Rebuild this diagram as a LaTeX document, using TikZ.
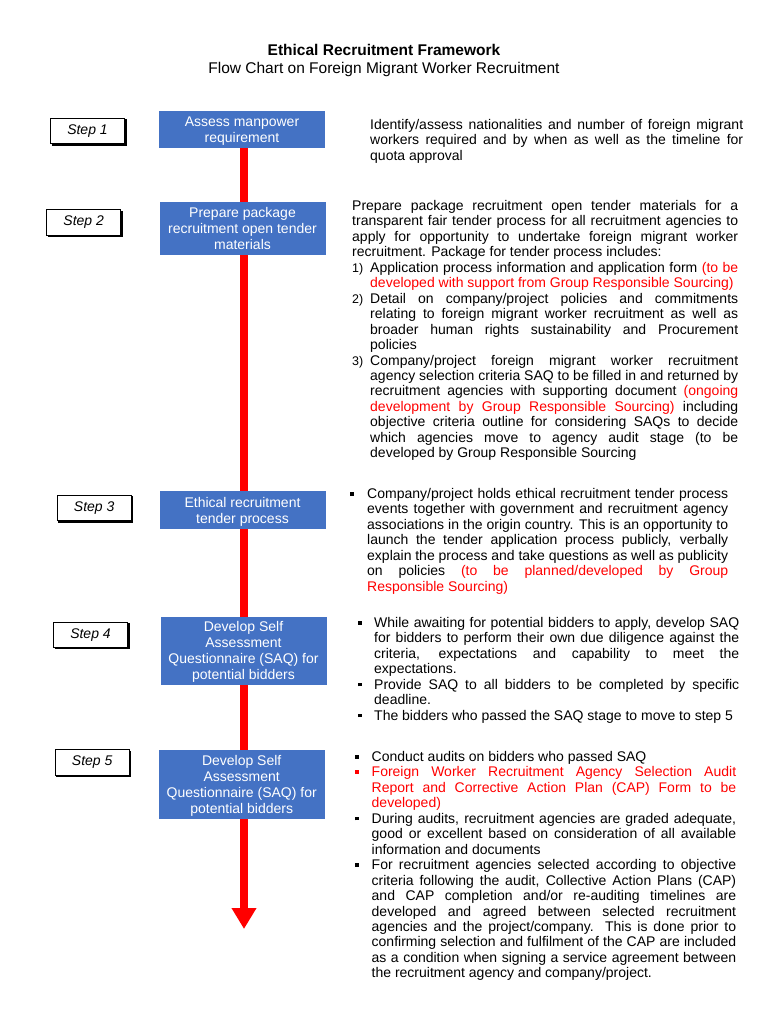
\documentclass[tikz,border=0pt]{standalone}
\usepackage{fontspec}
\setmainfont{Liberation Sans}
\usetikzlibrary{arrows.meta}
\definecolor{boxblue}{HTML}{4472C4}
\definecolor{rred}{HTML}{FF0000}
\newcommand{\rt}[1]{\textcolor{rred}{#1}}
\newcommand{\sqb}{\raisebox{3pt}{\rule{3.6pt}{3.6pt}}}
\newcommand{\rsqb}{\textcolor{rred}{\sqb}}
\newcommand{\numl}[1]{{\fontsize{12.5}{15.45}\selectfont #1}}
\newcommand{\hitem}[3]{\par\noindent\hangindent=#1\relax\hangafter=1\relax\makebox[#1][l]{#2}#3\par}
\newcommand{\tblock}[2]{\parbox[t]{#1}{\parindent=0pt\tolerance=10000\hbadness=10000\hyphenpenalty=10000\exhyphenpenalty=10000\fontsize{14}{15.45}\selectfont #2}}
\newcommand{\bstart}{\rule{0pt}{14pt}}
\newcommand{\bend}{\rule[-4pt]{0pt}{4pt}}
\tikzset{
  body/.style={anchor=base west, inner sep=0pt},
  bluebox/.style={fill=boxblue, text=white, align=center, inner sep=0pt,
    minimum width=166pt, font=\fontsize{14}{16}\selectfont},
  stepbox/.style={draw=black, fill=white, line width=0.8pt, inner sep=0pt,
    minimum width=74pt, minimum height=25.5pt,
    font=\itshape\fontsize{14}{16}\selectfont},
  shadowline/.style={draw=black, line width=1.4pt},
  redline/.style={draw=rred, line width=8pt},
  titlefont/.style={anchor=base, inner sep=0pt, font=\fontsize{15.5}{18}\selectfont}
}
\begin{document}
\begin{tikzpicture}[x=1pt,y=-1pt]
\fill[white] (0,0) rectangle (768,1024);
\useasboundingbox (0,0) rectangle (768,1024);

% titles
\node[titlefont, font=\bfseries\fontsize{15.5}{18}\selectfont] (title) at (384,56) {Ethical Recruitment Framework};
\node[titlefont] (subtitle) at (384,73.3) {Flow Chart on Foreign Migrant Worker Recruitment};

% blue boxes
\node[bluebox, minimum height=37pt] (b1) at (242,129.5) {\bstart Assess manpower\\requirement\bend};
\node[bluebox, minimum height=53pt] (b2) at (242.5,228.5) {\bstart Prepare package\\recruitment open tender\\materials\bend};
\node[bluebox, minimum height=37.5pt] (b3) at (242.5,510) {\bstart Ethical recruitment\\tender process\bend};
\node[bluebox, minimum height=68pt] (b4) at (243.5,650.7) {\bstart Develop Self\\Assessment\\Questionnaire (SAQ) for\\potential bidders\bend};
\node[bluebox, minimum height=69pt] (b5) at (241.7,784.5) {\bstart Develop Self\\Assessment\\Questionnaire (SAQ) for\\potential bidders\bend};

% red connectors
\coordinate (ax) at (244,0);
\coordinate (arrend) at (244,929);
\draw[redline] (b1.south -| ax) -- (b2.north -| ax);
\draw[redline] (b2.south -| ax) -- (b3.north -| ax);
\draw[redline] (b3.south -| ax) -- (b4.north -| ax);
\draw[redline] (b4.south -| ax) -- (b5.north -| ax);
\draw[redline, -{Triangle[width=23.5pt,length=21pt]}] (b5.south -| ax) -- (arrend);

% step labels
\node[stepbox] (s1) at (87.5,130.8) {Step 1};
\node[stepbox] (s2) at (83.7,222.3) {Step 2};
\node[stepbox] (s3) at (94.2,508) {Step 3};
\node[stepbox] (s4) at (90.5,634.7) {Step 4};
\node[stepbox] (s5) at (92.2,762.5) {Step 5};
\foreach \s in {s1,s2,s3,s4,s5}{
  \draw[shadowline] ([xshift=1.5pt,yshift=-0.9pt]\s.south west) -- ([xshift=0.9pt,yshift=-0.9pt]\s.south east) -- ([xshift=0.9pt,yshift=-1.5pt]\s.north east);
}

% step 1 text
\node[body] (t1) at (370,129.5) {\tblock{373pt}{Identify/assess nationalities and number of foreign migrant\linebreak
workers required and by when as well as the timeline for\linebreak
quota approval}};

% step 2 text
\node[body] (t2) at (352,210.5) {\tblock{386pt}{Prepare package recruitment open tender materials for a\linebreak
transparent fair tender process for all recruitment agencies to\linebreak
apply for opportunity to undertake foreign migrant worker\linebreak
recruitment. Package for tender process includes:
\hitem{18pt}{\numl{1)}}{Application process information and application form \rt{(to be\linebreak
developed with support from Group Responsible Sourcing)}}
\hitem{18pt}{\numl{2)}}{Detail on company/project policies and commitments\linebreak
relating to foreign migrant worker recruitment as well as\linebreak
broader human rights sustainability and Procurement\linebreak
policies}
\hitem{18pt}{\numl{3)}}{Company/project foreign migrant worker recruitment\linebreak
agency selection criteria SAQ to be filled in and returned by\linebreak
recruitment agencies with supporting document \rt{(ongoing\linebreak
development by Group Responsible Sourcing)} including\linebreak
objective criteria outline for considering SAQs to decide\linebreak
which agencies move to agency audit stage (to be\linebreak
developed by Group Responsible Sourcing}}};

% step 3 text
\node[body] (t3) at (350,498.5) {\tblock{378pt}{\hitem{17pt}{\sqb}{Company/project holds ethical recruitment tender process\linebreak
events together with government and recruitment agency\linebreak
associations in the origin country. This is an opportunity to\linebreak
launch the tender application process publicly, verbally\linebreak
explain the process and take questions as well as publicity\linebreak
on policies \rt{(to be planned/developed by Group\linebreak
Responsible Sourcing)}}}};

% step 4 text
\node[body] (t4) at (358,627.5) {\tblock{381pt}{\hitem{16pt}{\sqb}{While awaiting for potential bidders to apply, develop SAQ\linebreak
for bidders to perform their own due diligence against the\linebreak
criteria, expectations and capability to meet the\linebreak
expectations.}
\hitem{16pt}{\sqb}{Provide SAQ to all bidders to be completed by specific\linebreak
deadline.}
\hitem{16pt}{\sqb}{The bidders who passed the SAQ stage to move to step 5}}};

% step 5 text
\node[body] (t5) at (355,761.5) {\tblock{381pt}{\hitem{16.5pt}{\sqb}{Conduct audits on bidders who passed SAQ}
\hitem{16.5pt}{\rsqb}{\rt{Foreign Worker Recruitment Agency Selection Audit\linebreak
Report and Corrective Action Plan (CAP) Form to be\linebreak
developed)}}
\hitem{16.5pt}{\sqb}{During audits, recruitment agencies are graded adequate,\linebreak
good or excellent based on consideration of all available\linebreak
information and documents}
\hitem{16.5pt}{\sqb}{For recruitment agencies selected according to objective\linebreak
criteria following the audit, Collective Action Plans (CAP)\linebreak
and CAP completion and/or re-auditing timelines are\linebreak
developed and agreed between selected recruitment\linebreak
agencies and the project/company. This is done prior to\linebreak
confirming selection and fulfilment of the CAP are included\linebreak
as a condition when signing a service agreement between\linebreak
the recruitment agency and company/project.}}};
\end{tikzpicture}
\end{document}
